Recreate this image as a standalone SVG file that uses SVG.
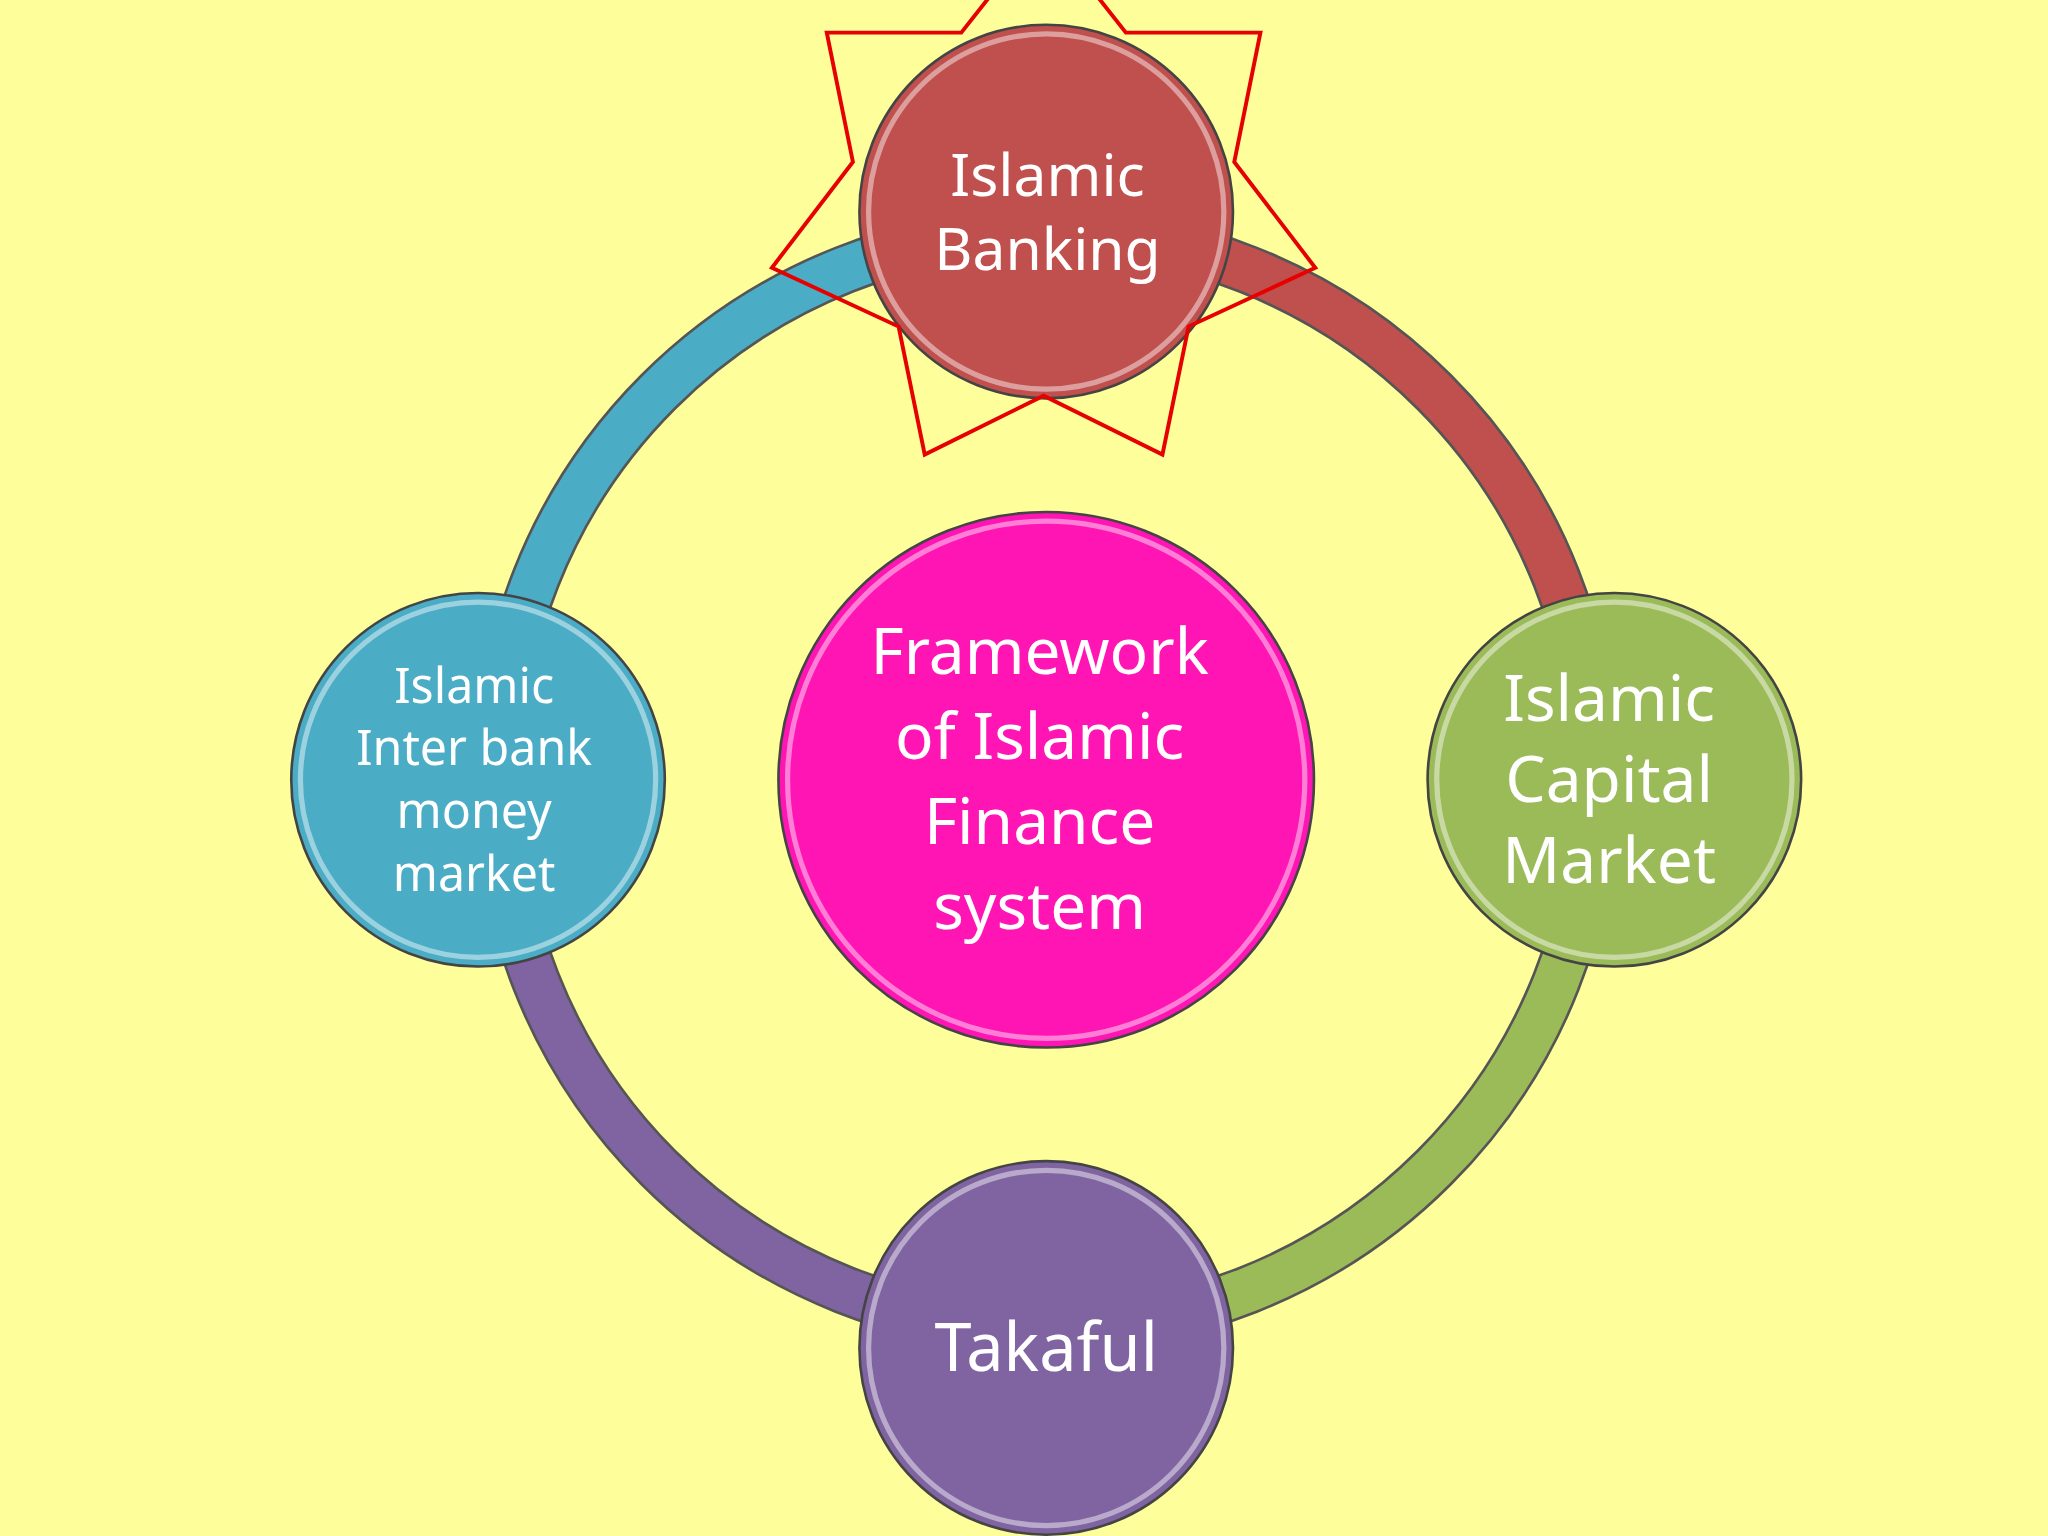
<svg xmlns="http://www.w3.org/2000/svg" width="2048" height="1536" viewBox="0 0 2048 1536">
<style>
.rim{fill:none;stroke:#555;stroke-width:38}
.arc{fill:none;stroke-width:34}
.node{stroke:#444;stroke-width:2}
.hl{fill:none;stroke:#fff;stroke-opacity:0.45;stroke-width:4}
text{font-family:"Noto Sans","Open Sans",sans-serif;fill:#fff;text-anchor:middle}
</style>
<rect width="2048" height="1536" fill="#FEFE9B"/>
<g transform="scale(1.30612)">
<g id="connectors">
<path class="rim" d="M381,597 A420,420 0 0 1 801,177"/>
<path class="rim" d="M801,177 A420,420 0 0 1 1221,597"/>
<path class="rim" d="M1221,597 A420,420 0 0 1 801,1017"/>
<path class="rim" d="M801,1017 A420,420 0 0 1 381,597"/>
<path class="arc" stroke="#4BACC6" d="M381,597 A420,420 0 0 1 801,177"/>
<path class="arc" stroke="#C0504D" d="M801,177 A420,420 0 0 1 1221,597"/>
<path class="arc" stroke="#9BBB59" d="M1221,597 A420,420 0 0 1 801,1017"/>
<path class="arc" stroke="#8064A2" d="M801,1017 A420,420 0 0 1 381,597"/>
</g>
<g id="center">
<circle class="node" cx="801" cy="597" r="205" fill="#FF14B4"/>
<circle class="hl" cx="801" cy="597" r="198"/>
<text font-size="49"><tspan x="796" y="516">Framework</tspan><tspan x="796" y="581">of Islamic</tspan><tspan x="796" y="646">Finance</tspan><tspan x="796" y="711">system</tspan></text>
</g>
<g id="banking">
<circle class="node" cx="801" cy="162" r="143" fill="#C0504D"/>
<circle class="hl" cx="801" cy="162" r="136"/>
<text font-size="45"><tspan x="802" y="150">Islamic</tspan><tspan x="802" y="207">Banking</tspan></text>
</g>
<g id="star">
<polygon fill="none" stroke="#E60000" stroke-width="3" points="799,-55 862,25 965,25 945,124 1007,205 910,250 890,348 799,303 708,348 688,250 591,205 653,124 633,25 736,25"/>
</g>
<g id="interbank">
<circle class="node" cx="366" cy="597" r="143" fill="#4BACC6"/>
<circle class="hl" cx="366" cy="597" r="136"/>
<text font-size="37"><tspan x="363" y="538">Islamic</tspan><tspan x="363" y="586">Inter bank</tspan><tspan x="363" y="634">money</tspan><tspan x="363" y="682">market</tspan></text>
</g>
<g id="capital">
<circle class="node" cx="1236" cy="597" r="143" fill="#9BBB59"/>
<circle class="hl" cx="1236" cy="597" r="136"/>
<text font-size="49"><tspan x="1232" y="552">Islamic</tspan><tspan x="1232" y="614">Capital</tspan><tspan x="1232" y="676">Market</tspan></text>
</g>
<g id="takaful">
<circle class="node" cx="801" cy="1032" r="143" fill="#8064A2"/>
<circle class="hl" cx="801" cy="1032" r="136"/>
<text font-size="51" x="801" y="1050">Takaful</text>
</g>
</g>
</svg>
